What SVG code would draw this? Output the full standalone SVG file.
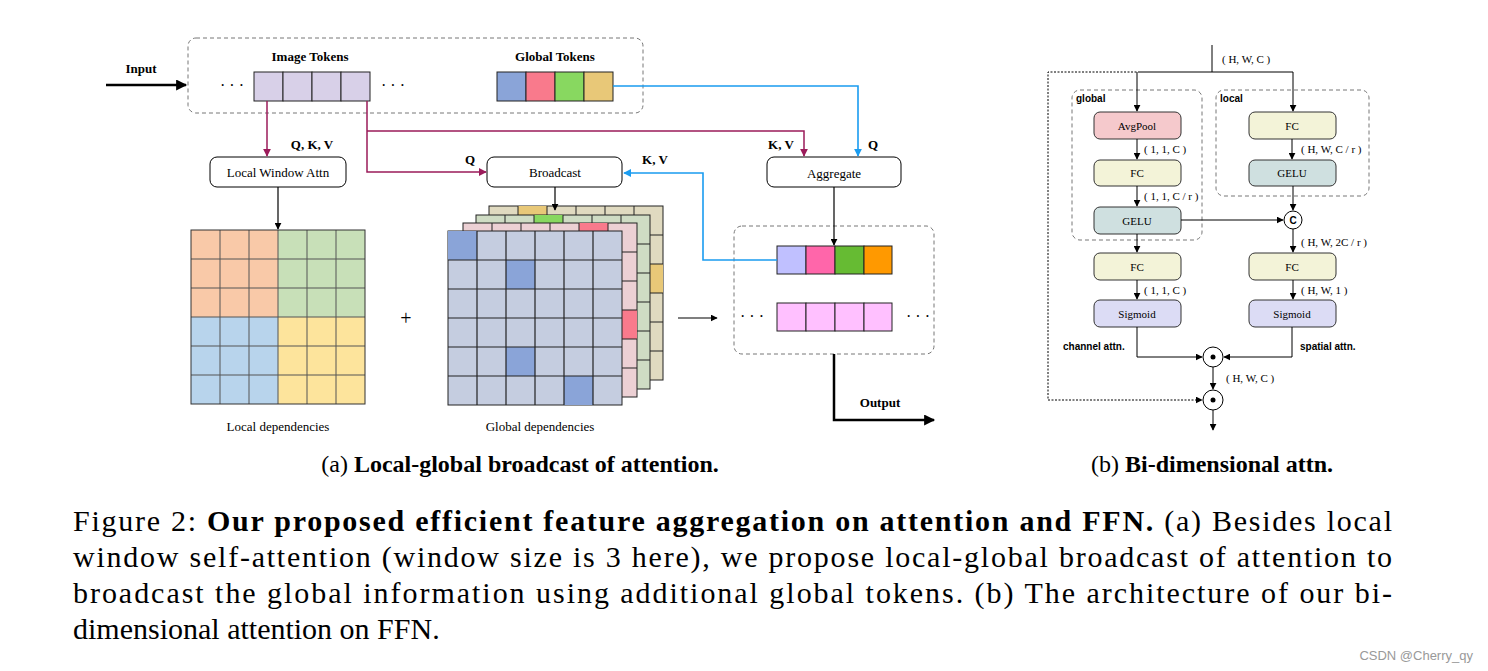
<svg xmlns="http://www.w3.org/2000/svg" width="1488" height="671" viewBox="0 0 1488 671">
<defs>
<marker id="ak" viewBox="0 0 10 10" refX="9" refY="5" markerWidth="7" markerHeight="7" orient="auto-start-reverse" markerUnits="userSpaceOnUse"><path d="M0,0L10,5L0,10z" fill="#000"/></marker>
<marker id="akb" viewBox="0 0 10 10" refX="9" refY="5" markerWidth="13" markerHeight="11" orient="auto" markerUnits="userSpaceOnUse"><path d="M0,0L10,5L0,10z" fill="#000"/></marker>
<marker id="ap" viewBox="0 0 10 10" refX="9" refY="5" markerWidth="8" markerHeight="8" orient="auto" markerUnits="userSpaceOnUse"><path d="M0,0L10,5L0,10z" fill="#9b1b5a"/></marker>
<marker id="ab" viewBox="0 0 10 10" refX="9" refY="5" markerWidth="8" markerHeight="8" orient="auto" markerUnits="userSpaceOnUse"><path d="M0,0L10,5L0,10z" fill="#1a9cf0"/></marker>
</defs>
<style>
text{font-family:"Liberation Serif",serif;fill:#000}
.b{font-weight:bold}
.s{font-size:13px}
.sm{font-size:11px}
.dash{fill:none;stroke:#777;stroke-dasharray:4 3;stroke-width:1}
.box{fill:#fff;stroke:#000;stroke-width:1}
.nb{stroke:#333;stroke-width:1}
.cell{stroke:#222;stroke-width:1}
.k{fill:none;stroke:#000;stroke-width:1.2}
.p{fill:none;stroke:#9b1b5a;stroke-width:1.5}
.bl{fill:none;stroke:#1a9cf0;stroke-width:1.6}
.sans{font-family:"Liberation Sans",sans-serif;font-weight:bold;font-size:10px}
.cap{font-size:30px}
</style>
<rect width="1488" height="671" fill="#fff"/>

<g id="input-box">
<rect class="dash" x="188" y="38" width="455" height="75" rx="8"/>
<text x="310" y="61" text-anchor="middle" class="b s">Image Tokens</text>
<text x="555" y="61" text-anchor="middle" class="b s">Global Tokens</text>
<text x="232" y="91" text-anchor="middle" font-size="16" fill="#555">· · ·</text>
<text x="393" y="91" text-anchor="middle" font-size="16" fill="#555">· · ·</text>
<g class="cell" fill="#d8d0e8"><rect x="254" y="72" width="29" height="29"/><rect x="283" y="72" width="29" height="29"/><rect x="312" y="72" width="29" height="29"/><rect x="341" y="72" width="29" height="29"/></g>
<g class="cell"><rect x="497" y="72" width="29" height="29" fill="#8aa4d8"/><rect x="526" y="72" width="29" height="29" fill="#f97a8c"/><rect x="555" y="72" width="29" height="29" fill="#88d860"/><rect x="584" y="72" width="29" height="29" fill="#e8c878"/></g>
</g>
<text x="141" y="73" text-anchor="middle" class="b s">Input</text>

<g id="local-attn"><rect class="box" x="210" y="157" width="136" height="30" rx="7"/><text x="278" y="177" text-anchor="middle" class="s">Local Window Attn</text></g>
<g id="broadcast"><rect class="box" x="487" y="157" width="135" height="30" rx="7"/><text x="555" y="177" text-anchor="middle" class="s">Broadcast</text></g>
<g id="aggregate"><rect class="box" x="767" y="157" width="134" height="30" rx="7"/><text x="834" y="178" text-anchor="middle" class="s">Aggregate</text></g>

<g id="local-grid">
<rect x="191" y="230" width="87" height="87" fill="#f9c9a8"/><rect x="278" y="230" width="87" height="87" fill="#c8e0b8"/>
<rect x="191" y="317" width="87" height="87" fill="#b8d4ec"/><rect x="278" y="317" width="87" height="87" fill="#fde49c"/>
<path d="M220,230V404M249,230V404M278,230V404M307,230V404M336,230V404M191,259H365M191,288H365M191,317H365M191,346H365M191,375H365" stroke="#555" stroke-width="1"/>
<rect x="191" y="230" width="174" height="174" fill="none" stroke="#333"/>
<text x="278" y="431" text-anchor="middle" class="s">Local dependencies</text>
</g>
<text x="406" y="325" text-anchor="middle" font-size="20">+</text>

<g id="global-grid">
<rect x="489" y="206" width="174" height="174" fill="#e0dac0" stroke="#222"/>
<rect x="518" y="206" width="29" height="29" fill="#e8c878"/><rect x="634" y="264" width="29" height="29" fill="#e8c878"/>
<path d="M518,206V380M547,206V380M576,206V380M605,206V380M634,206V380M489,235H663M489,264H663M489,293H663M489,322H663M489,351H663" stroke="#222"/>
<rect x="476" y="215" width="174" height="174" fill="#cfdcc4" stroke="#222"/>
<rect x="534" y="215" width="29" height="29" fill="#88d860"/>
<path d="M505,215V389M534,215V389M563,215V389M592,215V389M621,215V389M476,244H650M476,273H650M476,302H650M476,331H650M476,360H650" stroke="#222"/>
<rect x="463" y="223" width="174" height="174" fill="#ecd0d4" stroke="#222"/>
<rect x="579" y="223" width="29" height="29" fill="#f97a8c"/><rect x="608" y="310" width="29" height="29" fill="#f97a8c"/>
<path d="M492,223V397M521,223V397M550,223V397M579,223V397M608,223V397M463,252H637M463,281H637M463,310H637M463,339H637M463,368H637" stroke="#222"/>
<rect x="448" y="231" width="174" height="174" fill="#c5cde0" stroke="#222"/>
<rect x="448" y="231" width="29" height="29" fill="#8aa4d8"/><rect x="506" y="260" width="29" height="29" fill="#8aa4d8"/><rect x="506" y="347" width="29" height="29" fill="#8aa4d8"/><rect x="564" y="376" width="29" height="29" fill="#8aa4d8"/>
<path d="M477,231V405M506,231V405M535,231V405M564,231V405M593,231V405M448,260H622M448,289H622M448,318H622M448,347H622M448,376H622" stroke="#222" stroke-width="1.2"/>
<text x="540" y="431" text-anchor="middle" class="s">Global dependencies</text>
</g>

<g id="output-box">
<rect class="dash" x="734" y="226" width="200" height="128" rx="8"/>
<g class="cell"><rect x="777" y="246" width="29" height="28" fill="#c0c0ff"/><rect x="806" y="246" width="29" height="28" fill="#ff66aa"/><rect x="835" y="246" width="29" height="28" fill="#66bb33"/><rect x="864" y="246" width="28" height="28" fill="#ff9900"/></g>
<g class="cell" fill="#ffc0ff"><rect x="777" y="303" width="29" height="28"/><rect x="806" y="303" width="29" height="28"/><rect x="835" y="303" width="29" height="28"/><rect x="864" y="303" width="28" height="28"/></g>
<text x="752" y="322" text-anchor="middle" font-size="16" fill="#555">· · ·</text>
<text x="918" y="322" text-anchor="middle" font-size="16" fill="#555">· · ·</text>
</g>
<text x="880" y="407" text-anchor="middle" class="b s">Output</text>

<g id="connectors-a">
<path d="M106,85H186" stroke="#000" stroke-width="2.5" fill="none" marker-end="url(#akb)"/>
<path class="p" d="M267,101V156" marker-end="url(#ap)"/>
<path class="p" d="M367,101V172H486" marker-end="url(#ap)"/>
<path class="p" d="M367,131H804V156" marker-end="url(#ap)"/>
<path class="bl" d="M613,86H858V156" marker-end="url(#ab)"/>
<path class="bl" d="M777,260H703V173H624" marker-end="url(#ab)"/>
<path class="k" d="M278,187V229" marker-end="url(#ak)"/>
<path class="k" d="M555,187V210" marker-end="url(#ak)"/>
<path class="k" d="M834,187V245" marker-end="url(#ak)"/>
<path class="k" d="M678,318H717" marker-end="url(#ak)"/>
<path d="M834,354V420H934" stroke="#000" stroke-width="2.5" fill="none" marker-end="url(#akb)"/>
<text x="312" y="149" text-anchor="middle" class="b s">Q, K, V</text>
<text x="470" y="164" text-anchor="middle" class="b s">Q</text>
<text x="655" y="164" text-anchor="middle" class="b s">K, V</text>
<text x="781" y="149" text-anchor="middle" class="b s">K, V</text>
<text x="873" y="149" text-anchor="middle" class="b s">Q</text>
</g>

<g id="panel-b">
<rect class="dash" x="1072" y="90" width="130" height="150" rx="8"/>
<rect class="dash" x="1216" y="90" width="153" height="106" rx="8"/>
<text x="1076" y="102" class="sans">global</text>
<text x="1220" y="102" class="sans">local</text>
<g id="avgpool"><rect class="nb" x="1094" y="112" width="87" height="27" rx="6" fill="#f5c9cc"/><text x="1137" y="130" text-anchor="middle" class="sm" font-size="12">AvgPool</text></g>
<g id="fc1"><rect class="nb" x="1094" y="160" width="87" height="26" rx="6" fill="#f3f3d8"/><text x="1137" y="177" text-anchor="middle" class="sm">FC</text></g>
<g id="gelu1"><rect class="nb" x="1094" y="207" width="87" height="27" rx="6" fill="#cfe0e0"/><text x="1137" y="225" text-anchor="middle" class="sm">GELU</text></g>
<g id="fc2"><rect class="nb" x="1094" y="253" width="87" height="27" rx="6" fill="#f3f3d8"/><text x="1137" y="271" text-anchor="middle" class="sm">FC</text></g>
<g id="sig1"><rect class="nb" x="1094" y="300" width="87" height="27" rx="6" fill="#dcdcf5"/><text x="1137" y="318" text-anchor="middle" class="sm">Sigmoid</text></g>
<g id="fc3"><rect class="nb" x="1249" y="112" width="87" height="27" rx="6" fill="#f3f3d8"/><text x="1292" y="130" text-anchor="middle" class="sm">FC</text></g>
<g id="gelu2"><rect class="nb" x="1249" y="160" width="87" height="26" rx="6" fill="#cfe0e0"/><text x="1292" y="177" text-anchor="middle" class="sm">GELU</text></g>
<g id="fc4"><rect class="nb" x="1249" y="253" width="87" height="27" rx="6" fill="#f3f3d8"/><text x="1292" y="271" text-anchor="middle" class="sm">FC</text></g>
<g id="sig2"><rect class="nb" x="1249" y="300" width="87" height="27" rx="6" fill="#dcdcf5"/><text x="1292" y="318" text-anchor="middle" class="sm">Sigmoid</text></g>
<g id="concat"><circle cx="1293" cy="220" r="9" fill="#fff" stroke="#000"/><text x="1293" y="224" text-anchor="middle" class="sans">C</text></g>
<g id="mul1"><circle cx="1213" cy="357" r="10" fill="#fff" stroke="#000"/><circle cx="1213" cy="357" r="2.5"/></g>
<g id="mul2"><circle cx="1213" cy="400" r="10" fill="#fff" stroke="#000"/><circle cx="1213" cy="400" r="2.5"/></g>
<text x="1063" y="350" class="sans">channel attn.</text>
<text x="1300" y="350" class="sans">spatial attn.</text>
</g>

<g id="connectors-b" stroke="#000" fill="none" stroke-width="1">
<path d="M1212,45V72M1140,72H1293"/>
<path d="M1140,72H1048V400H1202" stroke-dasharray="2 1.5" marker-end="url(#ak)"/>
<path d="M1137,72V111" marker-end="url(#ak)"/>
<path d="M1293,72V111" marker-end="url(#ak)"/>
<path d="M1137,139V159" marker-end="url(#ak)"/>
<path d="M1137,186V206" marker-end="url(#ak)"/>
<path d="M1137,234V252" marker-end="url(#ak)"/>
<path d="M1137,280V299" marker-end="url(#ak)"/>
<path d="M1292,139V159" marker-end="url(#ak)"/>
<path d="M1293,186V210" marker-end="url(#ak)"/>
<path d="M1181,220H1283" marker-end="url(#ak)"/>
<path d="M1293,229V252" marker-end="url(#ak)"/>
<path d="M1293,280V299" marker-end="url(#ak)"/>
<path d="M1137,327V357H1202" marker-end="url(#ak)"/>
<path d="M1292,327V357H1224" marker-end="url(#ak)"/>
<path d="M1213,367V389" marker-end="url(#ak)"/>
<path d="M1213,410V430" marker-end="url(#ak)"/>
</g>
<g class="sm">
<text x="1222" y="63" class="sm">( H, W, C )</text>
<text x="1144" y="153" class="sm">( 1, 1, C )</text>
<text x="1144" y="200" class="sm">( 1, 1, C / r )</text>
<text x="1144" y="294" class="sm">( 1, 1, C )</text>
<text x="1301" y="153" class="sm">( H, W, C / r )</text>
<text x="1301" y="246" class="sm">( H, W, 2C / r )</text>
<text x="1301" y="294" class="sm">( H, W, 1 )</text>
<text x="1226" y="382" class="sm">( H, W, C )</text>
</g>

<text x="520" y="472" text-anchor="middle" font-size="24">(a) <tspan class="b">Local-global broadcast of attention.</tspan></text>
<text x="1212" y="472" text-anchor="middle" font-size="24">(b) <tspan class="b">Bi-dimensional attn.</tspan></text>

<text x="73" y="531" class="cap" textLength="1319" lengthAdjust="spacing">Figure 2: <tspan class="b">Our proposed efficient feature aggregation on attention and FFN.</tspan> (a) Besides local</text>
<text x="73" y="567" class="cap" textLength="1319" lengthAdjust="spacing">window self-attention (window size is 3 here), we propose local-global broadcast of attention to</text>
<text x="73" y="603" class="cap" textLength="1319" lengthAdjust="spacing">broadcast the global information using additional global tokens.  (b) The architecture of our bi-</text>
<text x="73" y="639" class="cap">dimensional attention on FFN.</text>
<text x="1473" y="660" text-anchor="end" font-family="Liberation Sans,sans-serif" font-size="13" fill="#888" style="font-family:'Liberation Sans',sans-serif;fill:#999">CSDN @Cherry_qy</text>
</svg>
